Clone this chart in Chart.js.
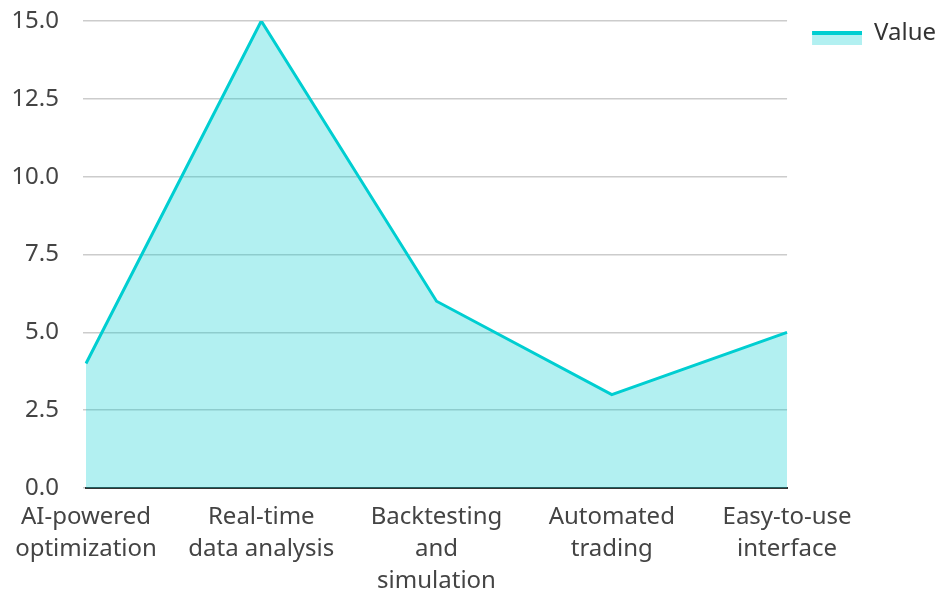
<!DOCTYPE html>
<html><head><meta charset="utf-8">
<script src="https://cdn.jsdelivr.net/npm/chart.js@4/dist/chart.umd.min.js"></script>
<style>html,body{margin:0;padding:0;background:#fff}#w{width:936px;height:592px}</style>
</head><body><div id="w"><canvas id="c"></canvas></div>
<script>
const categories = [["AI-powered","optimization"],["Real-time","data analysis"],["Backtesting","and","simulation"],["Automated","trading"],["Easy-to-use","interface"]];
const seriesName = "Value";
const values = [4, 15, 6, 3, 5];
const yTicks = [0, 2.5, 5, 7.5, 10, 12.5, 15];

const lineColor = "rgb(0,206,209)";
const fillColor = "rgba(0,206,209,0.3)";

// legend swatch: light box with a thick top line (transparent margin left/top for placement)
const SW_M = 24, SW_W = 50;
const sw = document.createElement('canvas');
sw.width = SW_M + SW_W; sw.height = 28;
const sx = sw.getContext('2d');
sx.fillStyle = fillColor; sx.fillRect(SW_M, 12, SW_W, 14);
sx.fillStyle = lineColor; sx.fillRect(SW_M, 12, SW_W, 4);

Chart.defaults.font.family = "'Noto Sans', sans-serif";
Chart.defaults.font.size = 24;
Chart.defaults.color = "#444";

new Chart(document.getElementById('c'), {
  type: 'line',
  data: {
    labels: categories,
    datasets: [{
      label: seriesName,
      data: values,
      borderColor: lineColor,
      backgroundColor: fillColor,
      borderWidth: 3,
      fill: 'origin',
      pointRadius: 0,
      tension: 0,
      pointStyle: sw
    }]
  },
  options: {
    responsive: true,
    maintainAspectRatio: false,
    animation: false,
    layout: { padding: { top: 20, right: -10, left: 0, bottom: 0 } },
    plugins: {
      legend: {
        position: 'right',
        align: 'start',
        labels: { usePointStyle: true, pointStyleWidth: SW_M + SW_W, boxHeight: 15, padding: 1, font: { size: 24 }, color: '#333' }
      },
      tooltip: { enabled: false }
    },
    scales: {
      x: {
        offset: false,
        grid: { display: false, drawTicks: false },
        border: { display: true, color: '#333', width: 2 },
        ticks: { maxRotation: 0, autoSkip: false, padding: 13, color: '#444', font: { size: 24, lineHeight: 1.3333 } },
        afterFit: (s) => { s.height = 104; s.paddingLeft = 0; s.paddingRight = 0; }
      },
      y: {
        min: 0, max: 15,
        afterBuildTicks: (s) => { s.ticks = yTicks.map(v => ({ value: v })); },
        grid: { color: '#ccc', lineWidth: 1.5, tickLength: 3 },
        border: { display: false },
        ticks: { padding: 24, color: '#444', callback: v => Number(v).toFixed(1) },
        afterFit: (s) => { s.width = 86; s.paddingTop = 21; s.paddingBottom = 0; }
      }
    }
  }
});
</script></body></html>
